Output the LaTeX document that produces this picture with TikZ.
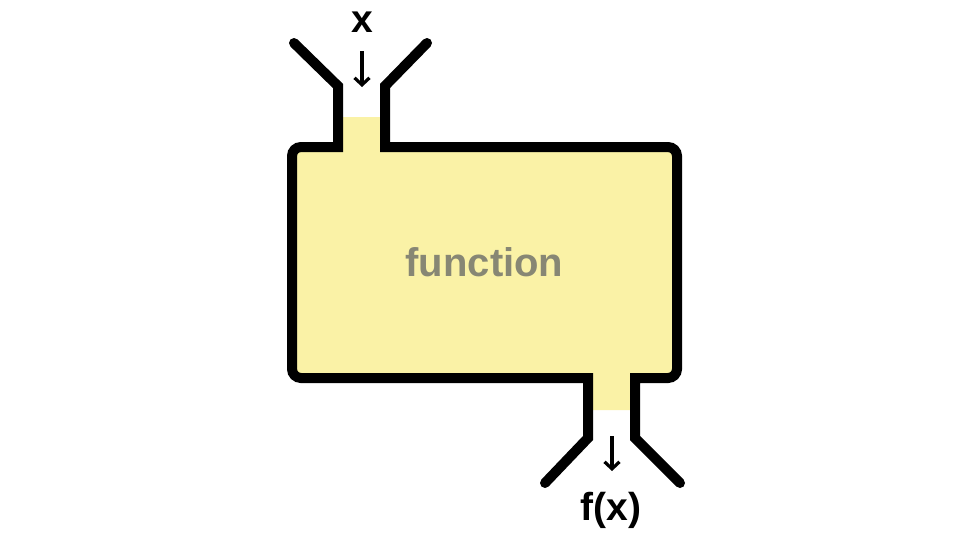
\documentclass[tikz,border=0pt]{standalone}
\usepackage{fontspec}
\setmainfont{Liberation Sans}
\usetikzlibrary{arrows.meta}
\definecolor{fillyellow}{RGB}{250,242,166}
\definecolor{labelgray}{RGB}{135,135,116}
\begin{document}
\begin{tikzpicture}[x=1pt,y=-1pt,
  outline/.style={line width=10pt, line join=miter, line cap=round, draw=black},
  flowarrow/.style={line width=3.2pt, -{Straight Barb[length=7pt,width=15pt,line width=3.2pt]}},
  labeltext/.style={font=\bfseries\fontsize{39}{39}\selectfont, text=black, inner sep=0pt, anchor=base},
  functext/.style={font=\bfseries\fontsize{40}{40}\selectfont, text=labelgray, inner sep=0pt, anchor=base}]
\useasboundingbox (0,0) rectangle (970,546);
\fill[white] (0,0) rectangle (970,546);
% fill of the machine
\fill[fillyellow] (338,117) -- (385,117) -- (385,147) -- (668,147)
  arc[start angle=-90,end angle=0,radius=9] -- (677,369)
  arc[start angle=0,end angle=90,radius=9] -- (635,378) -- (635,410)
  -- (588,410) -- (588,378) -- (301,378)
  arc[start angle=90,end angle=180,radius=9] -- (292,156)
  arc[start angle=180,end angle=270,radius=9] -- (338,147) -- cycle;
% left outline
\draw[outline] (294,43) -- (338,86) -- (338,147) -- (301,147)
  arc[start angle=-90,end angle=-180,radius=9] -- (292,369)
  arc[start angle=180,end angle=90,radius=9] -- (588,378) -- (588,438) -- (545,483);
% right outline
\draw[outline] (427,43) -- (385,86) -- (385,147) -- (668,147)
  arc[start angle=-90,end angle=0,radius=9] -- (677,369)
  arc[start angle=0,end angle=90,radius=9] -- (635,378) -- (635,438) -- (680,483);
% labels
\node[labeltext] (xin) at (362,32) {x};
\node[functext] (func) at (484.5,276) {function};
\node[labeltext] (fout) at (611,520) {f(x)};
% arrows
\coordinate (inA) at (362,51);
\coordinate (inB) at (362,87);
\coordinate (outA) at (612,436);
\coordinate (outB) at (612,471);
\draw[flowarrow] (inA) -- (inB);
\draw[flowarrow] (outA) -- (outB);
\end{tikzpicture}
\end{document}
